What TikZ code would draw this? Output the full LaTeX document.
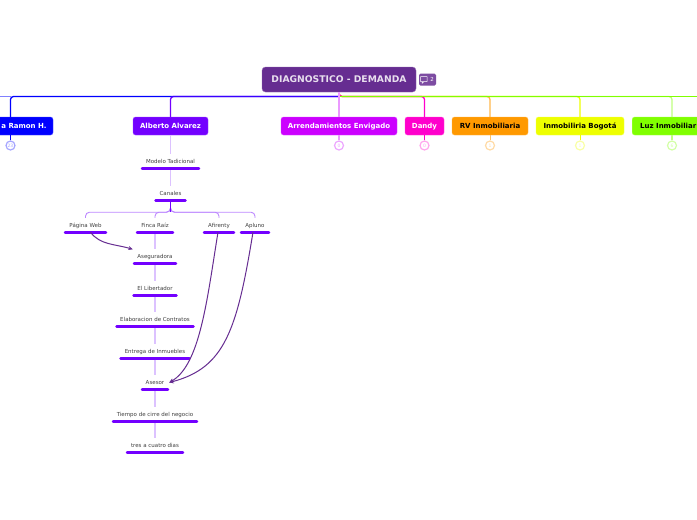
\documentclass[tikz,border=0pt]{standalone}
\usepackage{fontspec}
\setmainfont{DejaVu Sans}
\usepackage{tikz}
\usetikzlibrary{arrows.meta}
\usepackage{xcolor}
\definecolor{raiz}{HTML}{662D91}
\definecolor{azul}{HTML}{0000FF}
\definecolor{violeta}{HTML}{7300FF}
\definecolor{fucsia}{HTML}{CC00FF}
\definecolor{rosa}{HTML}{FF00CC}
\definecolor{naranja}{HTML}{FF9900}
\definecolor{amarillo}{HTML}{EEFF00}
\definecolor{verde}{HTML}{80FF00}
\definecolor{palido}{HTML}{DCC2FF}
\tikzset{
  rama/.style={draw=#1!70!white, fill=#1, rounded corners=2.5, minimum height=18, inner sep=0, text height=6.5, text depth=1.5, font=\bfseries\fontsize{7}{9}\selectfont},
  hoja/.style={inner sep=0, minimum height=14, text height=5, text depth=1, text=black!75, font=\fontsize{5.5}{7}\selectfont,
    append after command={(\tikzlastnode.south west) edge[draw=violeta, line width=2.9, line cap=round, shorten >=1.4, shorten <=1.4] (\tikzlastnode.south east)}},
  conta/.style={circle, draw=#1!35!white, line width=1.2, fill=white, minimum size=9, inner sep=0, text=#1!35!white, font=\fontsize{4.5}{5}\selectfont},
  linea/.style={line width=1.3, rounded corners=3},
  palida/.style={draw=palido, line width=1.8, shorten <=1.6},
  curva/.style={draw=raiz, line width=1, -{Stealth[length=4.5,width=4]}},
}
\begin{document}
\begin{tikzpicture}[x=1pt,y=1pt]
  \path[use as bounding box, clip] (0,0) rectangle (697,-520);
  \fill[white] (0,0) rectangle (697,-520);
  % Centro
  \node[fill=raiz, draw=raiz!70!white, rounded corners=3.5, minimum width=154, minimum height=25, inner sep=0, text=white!85!raiz, font=\bfseries\fontsize{9.2}{11}\selectfont] (raiz) at (339,-79.5) {DIAGNOSTICO - DEMANDA};
  \node[fill=raiz!85!white, rounded corners=1.5, minimum width=17, minimum height=12, inner sep=0, text=white, font=\fontsize{5.5}{6}\selectfont] (nota) at (427.5,-79.5) {\hspace*{9pt}2};
  \draw[white, line width=0.5, line join=round] (420.5,-76.5) rectangle (427,-81.5) (422,-81.5) -- (422,-83.5) -- (424,-81.5);
  % Ramas
  \node[rama=azul, text=white, minimum width=80] (ramon) at (13,-126) {\hspace*{22pt}a Ramon H.};
  \node[rama=violeta, text=white, minimum width=75] (alberto) at (170.5,-126) {Alberto Alvarez};
  \node[rama=fucsia, text=white, minimum width=116] (arrenda) at (339,-126) {Arrendamientos Envigado};
  \node[rama=rosa, text=white, minimum width=39] (dandy) at (424.5,-126) {Dandy};
  \node[rama=naranja, text=black, minimum width=76] (rv) at (490,-126) {RV Inmobiliaria};
  \node[rama=amarillo, text=black, minimum width=88] (bogota) at (580,-126) {Inmobiliria Bogotá};
  \node[rama=verde, text=black, anchor=west, inner xsep=8] (luz) at (632,-126) {Luz Inmobiliar};
  \coordinate (luzarriba) at (672,-117);
  \coordinate (luzabajo) at (672,-135);
  \coordinate (ramonarriba) at (10.5,-117);
  \coordinate (ramonabajo) at (10.5,-135);
  % Contadores
  \node[conta=azul] (c1) at (10.5,-145.5) {23};
  \node[conta=fucsia] (c2) at (339,-145.5) {0};
  \node[conta=rosa] (c3) at (424.5,-145.5) {0};
  \node[conta=naranja] (c4) at (490,-145.5) {1};
  \node[conta=amarillo] (c5) at (580,-145.5) {1};
  \node[conta=verde] (c6) at (672,-145.5) {6};
  \draw[azul, line width=1] (c1) -- (ramonabajo);
  \draw[fucsia!40!white, line width=1.2] (c2) -- (arrenda);
  \draw[rosa, line width=1] (c3) -- (dandy);
  \draw[naranja!60!white, line width=1] (c4) -- (rv);
  \draw[amarillo, line width=1] (c5) -- (bogota);
  \draw[verde!50!white, line width=1.2] (c6) -- (luzabajo);
  % Conectores del centro
  \coordinate (borde) at (-5,-96.5);
  \coordinate (fin) at (702,-96.5);
  \coordinate (bus) at (339,-96.5);
  \draw[line width=1.2, azul!50!white] (ramonarriba |- bus) -- (borde);
  \draw[linea, verde!50!white] (raiz.south) -- (bus) -| (luzarriba);
  \draw[linea, amarillo] (raiz.south) -- (bus) -| (bogota.north);
  \draw[linea, naranja!70!white] (raiz.south) -- (bus) -| (rv.north);
  \draw[linea, rosa] (raiz.south) -- (bus) -| (dandy.north);
  \draw[line width=1.1, verde] (bus) -- (fin);
  \draw[linea, violeta] (bus) -| (alberto.north);
  \draw[linea, azul] (bus) -| (ramonarriba);
  \draw[line width=1.3, violeta, opacity=0.5] (bus) -- (alberto |- bus);
  \draw[linea, fucsia!40!white] (raiz.south) -- (arrenda.north);
  % Alberto Alvarez
  \node[hoja, minimum width=59] (modelo) at (170.5,-161.5) {Modelo Tadicional};
  \node[hoja, minimum width=32] (canales) at (170.5,-193) {Canales};
  \node[hoja, minimum width=43] (pagina) at (85.5,-225) {Página Web};
  \node[hoja, minimum width=38] (finca) at (155,-225) {Finca Raíz};
  \node[hoja, minimum width=32] (afirenty) at (219,-225) {Afirenty};
  \node[hoja, minimum width=30] (apluno) at (255,-225) {Apluno};
  \node[hoja, minimum width=44] (asegura) at (155,-256.5) {Aseguradora};
  \node[hoja, minimum width=45] (liberta) at (155,-288) {El Libertador};
  \node[hoja, minimum width=79] (elabora) at (155,-319.5) {Elaboracion de Contratos};
  \node[hoja, minimum width=71] (entrega) at (155,-351) {Entrega de Inmuebles};
  \node[hoja, minimum width=28] (asesor) at (155,-382.5) {Asesor};
  \node[hoja, minimum width=86] (tiempo) at (155,-414) {Tiempo de cirre del negocio};
  \node[hoja, minimum width=58] (tres) at (155,-445.5) {tres a cuatro dias};
  % Lineas
  \draw[palida, shorten <=0] (alberto) -- (modelo);
  \draw[palida] (modelo.south) -- (canales.north);
  \foreach \desde/\hasta in {finca/asegura, asegura/liberta, liberta/elabora, elabora/entrega, entrega/asesor, asesor/tiempo, tiempo/tres}
    \draw[palida] (\desde.south) -- (\hasta.north);
  \foreach \hijo in {pagina, finca, afirenty, apluno}
    \draw[draw=palido!70!violeta, line width=0.9, rounded corners=4] (canales.south) -- ++(0,-12) -| (\hijo.north);
  \draw[violeta, line width=1.3] (canales.south) -- ++(0,-12);
  % Flechas
  \draw[curva] ([xshift=5]pagina.south) .. controls (100,-245) and (115,-244) .. (asegura.north west);
  \draw[curva] ([xshift=-1]afirenty.south) .. controls (207,-300) and (200,-365) .. (asesor.east);
  \draw[curva] ([xshift=-2]apluno.south) .. controls (237,-330) and (225,-368) .. (asesor.east);
\end{tikzpicture}
\end{document}
